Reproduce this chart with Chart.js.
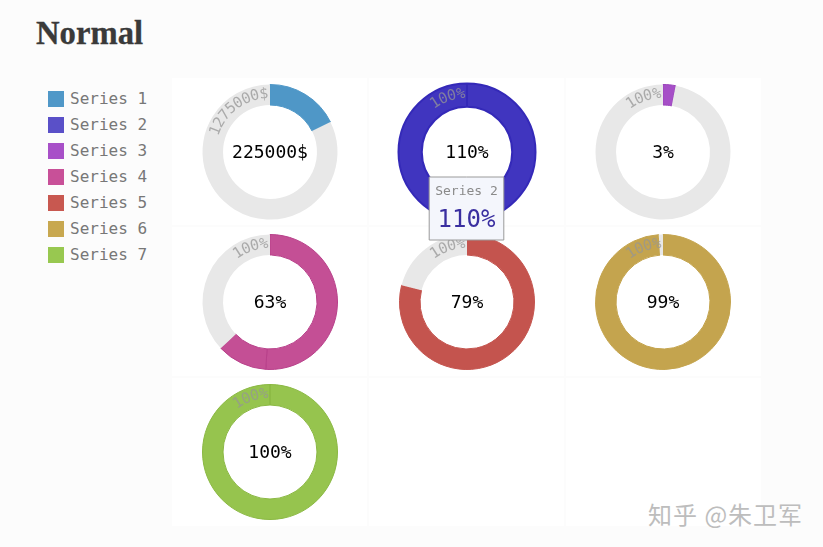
<!DOCTYPE html>
<html><head><meta charset="utf-8">
<script src="https://cdn.jsdelivr.net/npm/chart.js@4"></script>
<style>
html,body{margin:0;padding:0;width:823px;height:547px;overflow:hidden;background:#fcfcfc}
.cell{position:absolute;background:#fff}
canvas{position:absolute}
#title{position:absolute;left:36px;top:14px;font:bold 33px/38px "Liberation Serif";color:#3a3a3a;transform:scaleX(.99);transform-origin:left top;-webkit-text-stroke:.3px #3a3a3a}
.sw{position:absolute;left:48px;width:16px;height:16px}
.lg{position:absolute;left:70px;font:16px/16px "DejaVu Sans Mono";color:#777;white-space:pre}
#mark{position:absolute;left:648px;top:496px;font:24px "Noto Sans CJK SC";letter-spacing:1px;color:#bdbdbd;white-space:pre}
</style></head><body>
<div id="title">Normal</div>
<div id="mark">知乎 @朱卫军</div>
<script>
const seriesNames=['Series 1','Series 2','Series 3','Series 4','Series 5','Series 6','Series 7'];
const segments=[[225000],[110],[3],[51,12],[79],[99],[100]];
const totals=[1275000,100,100,100,100,100,100];
const centerLabels=['225000$','110%','3%','63%','79%','99%','100%'];
const totalLabels=['1275000$','100%','100%','100%','100%','100%','100%'];
const fills=['#4f97c7','#4035bf','#a64fc7','#c44f95','#c4544e','#c4a44e','#96c44e'];
const edges=['#4f97c7','#3429b8','#9a45bb','#b8408a','#c4544e','#c4a44e','#8ab842'];
const legendFills=['#5098c8','#5a50c8','#a850c8','#c85098','#c85850','#c8a850','#98c850'];
const trackColor='#e8e8e8';
const columnsX=[270,466.5,663];
const rowsY=[151.5,301.5,452];
const cellsX=[[172,195],[369,195],[566,195]];
const cellsY=[[78,147],[227,149],[378,148]];
const tipIndex=1;

for(const [x,w] of cellsX)for(const [y,h] of cellsY){
  const d=document.createElement('div');d.className='cell';
  d.style.cssText=`left:${x}px;top:${y}px;width:${w}px;height:${h}px`;
  document.body.insertBefore(d,document.body.firstChild);
}
seriesNames.forEach((n,i)=>{
  const s=document.createElement('div');s.className='sw';s.style.top=(90.5+26*i)+'px';s.style.background=legendFills[i];document.body.appendChild(s);
  const t=document.createElement('div');t.className='lg';t.style.top=(91+26*i)+'px';t.textContent=n;document.body.appendChild(t);
});

const gaugeText={
  id:'gaugeText',
  afterDatasetsDraw(chart,args,o){
    const c=chart.ctx,a=chart.getDatasetMeta(0).data[0];
    const cx=a.x,cy=a.y;
    c.save();
    c.fillStyle='#000';c.font='18px "DejaVu Sans Mono"';c.textAlign='center';c.textBaseline='middle';
    c.fillText(o.center,cx,cy+1);
    c.font='15px "DejaVu Sans Mono"';c.fillStyle='rgba(150,150,150,0.75)';
    const r=58,step=9/r,n=o.total.length;
    for(let i=0;i<n;i++){
      const ang=-0.03-(n-i-0.5)*step;
      c.save();
      c.translate(cx+r*Math.sin(ang),cy-r*Math.cos(ang));
      c.rotate(ang);
      c.fillText(o.total[i],0,0);
      c.restore();
    }
    c.restore();
  }
};
Chart.Tooltip.positioners.fixedBelow=function(){
  const a=this.chart.getDatasetMeta(0).data[0];
  return {x:a.x-0.5,y:a.y+25};
};
const SIZE=200;
segments.forEach((seg,i)=>{
  const cv=document.createElement('canvas');
  const cx=columnsX[i%3],cy=rowsY[Math.floor(i/3)];
  cv.width=SIZE;cv.height=SIZE;
  cv.style.cssText=`left:${cx-SIZE/2}px;top:${cy-SIZE/2}px;width:${SIZE}px;height:${SIZE}px;z-index:${i===tipIndex?5:1}`;
  document.body.appendChild(cv);
  const sum=seg.reduce((p,v)=>p+v,0),rest=Math.max(0,totals[i]-sum);
  const data=[...seg,rest];
  const big=i===tipIndex;
  const chart=new Chart(cv,{
    type:'doughnut',
    data:{labels:[...seg.map(()=>seriesNames[i]),'rest'],datasets:[{
      data,
      backgroundColor:[...seg.map(()=>fills[i]),trackColor],
      borderColor:[...seg.map(()=>edges[i]),trackColor],
      borderWidth:[...seg.map(()=>big?2:1),0],
      borderAlign:'center'
    }]},
    options:{
      responsive:false,animation:false,devicePixelRatio:1,events:[],
      radius:big?68.5:67.5,cutout:big?'66%':'69.6%',
      layout:{padding:0},
      plugins:{
        legend:{display:false},
        gaugeText:{center:centerLabels[i],total:totalLabels[i]},
        tooltip:{
          enabled:big,position:'fixedBelow',xAlign:'center',yAlign:'top',caretSize:0,caretPadding:0,cornerRadius:0,
          backgroundColor:'#f4f6fc',borderColor:'#9a9a9a',borderWidth:1,displayColors:false,
          titleColor:'#8a8a8a',titleFont:{family:'DejaVu Sans Mono',size:13,weight:'normal'},titleAlign:'center',titleMarginBottom:7,
          bodyFont:{family:'DejaVu Sans Mono',size:24},bodyAlign:'center',
          padding:{left:6,right:6,top:7,bottom:4.6},
          callbacks:{
            title:()=>seriesNames[i],
            label:()=>centerLabels[i],
            labelTextColor:()=>'#3a2fa0'
          }
        }
      }
    },
    plugins:[gaugeText]
  });
  if(big){
    chart.tooltip.setActiveElements([{datasetIndex:0,index:0}],{x:100,y:100});
    chart.update();
  }
});
</script>
</body></html>
